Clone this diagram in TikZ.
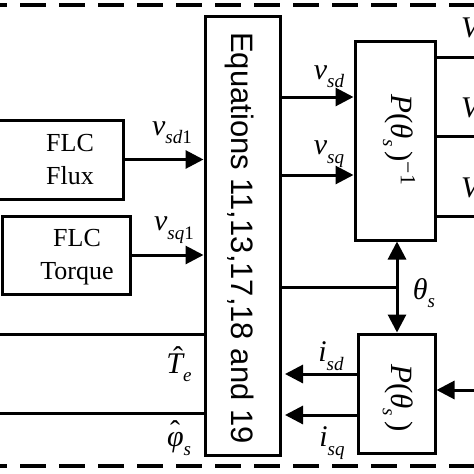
\documentclass[tikz,border=0pt]{standalone}
\usepackage{fontspec}
\setmainfont{Liberation Serif}
\setsansfont{Liberation Sans}
\usetikzlibrary{arrows.meta}
\newcommand\hatted[3]{\rlap{\hspace{#1}\raisebox{#2}{\upshape\symbol{"02C6}}}#3}
\newcommand\subx[1]{\raisebox{-0.28em}{\fontsize{19}{19}\selectfont #1}}
\begin{document}
\begin{tikzpicture}[x=1pt,y=-1pt,
  box/.style={draw,line width=3pt,inner sep=0pt},
  conn/.style={line width=3pt},
  arr/.style={conn,-{Triangle[length=18pt,width=18pt]}},
  darr/.style={conn,{Triangle[length=18pt,width=18pt]}-{Triangle[length=18pt,width=18pt]}},
  lab/.style={font=\fontsize{30}{32}\selectfont\itshape,inner sep=0pt},
  rm/.style={font=\fontsize{26}{33}\selectfont,align=center,inner sep=0pt},
  rot/.style={rotate=-90,inner sep=0pt},
  frame/.style={line width=4pt,dash pattern=on 26pt off 13pt,dash phase=19pt}]
\useasboundingbox (0,0) rectangle (474,474);
\fill[white] (0,0) rectangle (474,474);
\clip (0,0) rectangle (474,474);
% dashed frame
\coordinate (ft0) at (0,5); \coordinate (ft1) at (474,5);
\coordinate (fb0) at (0,466); \coordinate (fb1) at (474,466);
\draw[frame] (ft0) -- (ft1);
\draw[frame] (fb0) -- (fb1);
% boxes
\node[box,minimum width=143pt,minimum height=79pt] (flux) at (51.5,159.5) {};
\node[rm] (fluxtxt) at (70,160) {FLC\\Flux};
\node[box,minimum width=128pt,minimum height=78pt] (torque) at (66,255) {};
\node[rm] (torquetxt) at (77,257) {FLC\\Torque};
\node[box,minimum width=75pt,minimum height=439pt] (eq) at (242.5,235.5) {};
\node[rot,font=\sffamily\fontsize{31}{36}\selectfont] (eqtxt) at (240,238) {Equations 11,13,17,18 and 19};
\node[box,minimum width=80pt,minimum height=199pt] (pinv) at (395,140.5) {};
\node[rot,font=\fontsize{31}{36}\selectfont] (pinvtxt) at (399,140) {\itshape P\upshape(\itshape θ\subx{s}\,\upshape)\textsuperscript{−1}};
\node[box,minimum width=77pt,minimum height=119pt] (pd) at (396.5,393.5) {};
\node[rot,font=\fontsize{31}{36}\selectfont] (pdtxt) at (398,398) {\itshape P\upshape(\itshape θ\subx{s}\,\upshape)};
% connectors
\draw[arr] (flux.east) -- (flux.east -| eq.west);
\draw[arr] (torque.east) -- (torque.east -| eq.west);
\coordinate (te0) at (-5,334);
\draw[conn] (te0) -- (te0 -| eq.west);
\coordinate (ph0) at (-5,413);
\draw[conn] (ph0) -- (ph0 -| eq.west);
\coordinate (sd0) at (280,97);
\draw[arr] (eq.east |- sd0) -- (sd0 -| pinv.west);
\coordinate (sq0) at (280,175);
\draw[arr] (eq.east |- sq0) -- (sq0 -| pinv.west);
\coordinate (thj) at (397,287);
\draw[conn] (eq.east |- thj) -- (thj);
\draw[darr] (pinv.south -| thj) -- (pd.north -| thj);
\coordinate (isd0) at (285,374);
\draw[arr] (pd.west |- isd0) -- (isd0);
\coordinate (isq0) at (285,415);
\draw[arr] (pd.west |- isq0) -- (isq0);
\coordinate (in0) at (480,390);
\draw[arr] (in0) -- (in0 -| pd.east);
\coordinate (o1) at (480,57);
\coordinate (o2) at (480,136);
\coordinate (o3) at (480,216);
\draw[conn] (pinv.east |- o1) -- (o1);
\draw[conn] (pinv.east |- o2) -- (o2);
\draw[conn] (pinv.east |- o3) -- (o3);
% labels
\node[lab] (lsd1) at (172,133) {v\subx{sd\upshape 1}};
\node[lab] (lsq1) at (174,230) {v\subx{sq\upshape 1}};
\node[lab] (lsd) at (329,77) {v\subx{sd}};
\node[lab] (lsq) at (329,154) {v\subx{sq}};
\node[lab] (lte) at (179,364) {\hatted{0.22em}{0.2em}{T}\subx{e}};
\node[lab] (lph) at (179,438) {\hatted{0.1em}{0.17em}{φ}\subx{s}};
\node[lab] (lth) at (424,293) {θ\subx{s}};
\node[lab] (lisd) at (331,356) {i\subx{sd}};
\node[lab] (lisq) at (332,443) {i\subx{sq}};
\node[lab,anchor=west] (va) at (461,28) {V};
\node[lab,anchor=west] (vb) at (461,108) {V};
\node[lab,anchor=west] (vc) at (461,188) {V};
\end{tikzpicture}
\end{document}
